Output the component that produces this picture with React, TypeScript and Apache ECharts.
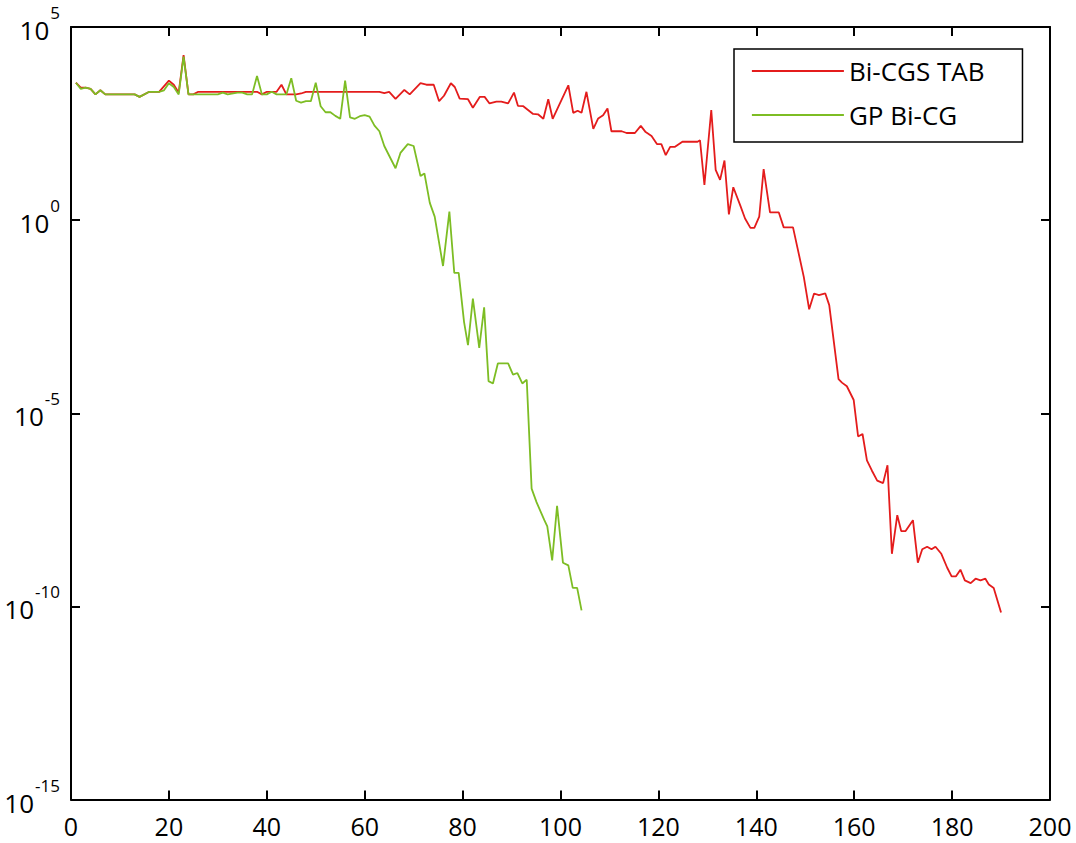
import React, { useEffect, useRef } from "react";
import * as echarts from "echarts";

const seriesNames = ["Bi-CGS TAB", "GP Bi-CG"];
const seriesColors = ["#e41c1c", "#7dbd24"];
const xTicks = { min: 0, max: 200, step: 20 };
const yRange = { min: 1e-15, max: 1e5 };

// [iteration, residual norm]
const biCgstabResidual: [number, number][] = [
  [1, 3.6e3], [2, 2.7e3], [3, 2.7e3], [4, 2.5e3], [5, 1.8e3], [6, 2.3e3], [7, 1.8e3],
  [13, 1.8e3], [14, 1.55e3], [16, 2.1e3], [18, 2.1e3], [20, 4.1e3], [21, 3.2e3],
  [22, 2.0e3], [23, 1.86e4], [24, 1.8e3], [25, 1.8e3], [26, 2.1e3], [38, 2.1e3],
  [39, 1.8e3], [40, 2.1e3], [42, 2.1e3], [43, 3.2e3], [44, 1.8e3], [46, 1.8e3],
  [47, 1.9e3], [48, 2.1e3], [63, 2.1e3], [64, 1.95e3], [65, 2.1e3], [66.3, 1.38e3],
  [68.1, 2.34e3], [69.2, 1.8e3], [71.4, 3.5e3], [72.6, 3.2e3], [74.1, 3.2e3],
  [75.2, 1.2e3], [76.2, 1.66e3], [77.6, 3.5e3], [78.4, 2.8e3], [79.4, 1.4e3],
  [81.1, 1.35e3], [82.1, 8.1e2], [83.5, 1.55e3], [84.5, 1.55e3], [85.5, 1.05e3],
  [86.9, 1.17e3], [87.9, 1.17e3], [89.3, 1.05e3], [90.5, 2.0e3], [91.3, 9.1e2],
  [92.4, 8.9e2], [94.4, 5.6e2], [95.4, 5.5e2], [96.5, 4.2e2], [97.5, 1.35e3],
  [98.4, 4.2e2], [101.6, 3.1e3], [102.6, 6.0e2], [103.5, 6.8e2], [104.3, 6.0e2],
  [105.3, 2.1e3], [106.7, 2.3e2], [107.7, 4.3e2], [108.7, 5.2e2], [109.6, 7.8e2],
  [110.4, 2.0e2], [112.5, 2.0e2], [113.5, 1.8e2], [115.2, 1.8e2], [116.4, 2.75e2],
  [117.4, 1.9e2], [118.6, 1.5e2], [119.7, 93], [120.6, 93], [121.5, 48], [122.4, 79],
  [123.4, 79], [124.9, 107], [128.0, 107], [128.5, 117], [129.4, 8.1], [130.8, 7.1e2],
  [131.7, 20], [132.6, 11], [133.5, 35], [134.4, 1.41], [135.3, 7.1], [136.7, 2.45],
  [137.7, 1.1], [138.8, 0.63], [139.6, 0.63], [140.6, 1.23], [141.5, 21], [142.8, 1.58],
  [144.6, 1.58], [145.6, 0.65], [147.5, 0.65], [149.7, 0.034], [150.8, 4.9e-3],
  [151.8, 1.26e-2], [152.8, 1.15e-2], [154.1, 1.26e-2], [154.9, 6.3e-3],
  [156.8, 7.6e-5], [157.5, 6.2e-5], [158.5, 5.0e-5], [159.9, 2.2e-5], [160.8, 2.5e-6],
  [161.7, 2.9e-6], [162.6, 6.0e-7], [163.6, 3.3e-7], [164.7, 1.8e-7], [165.9, 1.55e-7],
  [166.8, 4.5e-7], [167.7, 2.3e-9], [168.8, 2.3e-8], [169.6, 8.9e-9], [170.5, 8.9e-9],
  [172.0, 1.7e-8], [173.0, 1.35e-9], [173.9, 3.0e-9], [174.9, 3.5e-9], [175.8, 3.0e-9],
  [176.6, 3.5e-9], [177.8, 2.3e-9], [179.0, 1.0e-9], [179.9, 6.0e-10], [180.8, 6.0e-10],
  [181.7, 8.9e-10], [182.6, 4.7e-10], [183.8, 4.0e-10], [184.8, 5.2e-10],
  [185.8, 4.7e-10], [186.8, 5.2e-10], [187.5, 3.7e-10], [188.5, 3.0e-10],
  [190.0, 6.9e-11],
];

const gpBicgResidual: [number, number][] = [
  [1, 3.6e3], [2, 2.5e3], [3, 2.7e3], [4, 2.5e3], [5, 1.8e3], [6, 2.3e3], [7, 1.8e3],
  [13, 1.8e3], [14, 1.55e3], [16, 2.1e3], [18, 2.1e3], [19, 2.3e3], [20, 3.5e3],
  [21, 2.8e3], [22, 1.8e3], [23, 1.7e4], [24, 1.8e3], [30, 1.8e3], [31, 2.0e3],
  [32, 1.8e3], [34, 2.0e3], [35, 2.0e3], [36, 1.8e3], [37, 1.8e3], [38, 5.4e3],
  [39, 1.8e3], [40, 1.8e3], [41, 2.1e3], [42, 1.8e3], [44, 1.8e3], [45, 4.7e3],
  [46, 1.23e3], [47, 1.1e3], [48, 1.2e3], [49, 1.2e3], [50, 3.6e3], [51, 8.9e2],
  [52, 6.2e2], [53, 6.2e2], [54, 5.0e2], [55, 4.2e2], [56, 4.1e3], [57, 4.6e2],
  [58, 4.2e2], [59, 4.9e2], [60, 5.25e2], [61, 4.8e2], [62, 2.8e2], [63, 2.0e2],
  [64, 83], [66.3, 22], [67.3, 55], [68.8, 93], [70, 83], [71.4, 13.8], [72.2, 16.2],
  [73.3, 2.8], [74.3, 1.23], [76, 0.065], [77.3, 1.66], [78.3, 0.043], [79.2, 0.043],
  [80.3, 2.3e-3], [81.1, 5.8e-4], [82.1, 9.3e-3], [83.4, 4.9e-4], [84.4, 5.5e-3],
  [85.3, 6.8e-5], [86.2, 5.9e-5], [87.2, 1.95e-4], [89.3, 1.95e-4], [90.3, 1.0e-4],
  [91.2, 1.1e-4], [92.2, 5.9e-5], [93.1, 7.4e-5], [94.1, 1.12e-7], [95.1, 5.0e-8],
  [96.7, 1.7e-8], [97.3, 1.17e-8], [98.3, 1.55e-9], [99.3, 4.0e-8], [100.5, 1.35e-9],
  [101.6, 1.15e-9], [102.5, 3.0e-10], [103.4, 3.0e-10], [104.3, 7.9e-11],
];

const FONT = "'Open Sans', 'Noto Sans', sans-serif";

export default function App() {
  const ref = useRef<HTMLDivElement>(null);

  useEffect(() => {
    if (!ref.current) return;
    const chart = echarts.init(ref.current, null, { renderer: "svg" });

    const axisLine = { show: true, onZero: false, lineStyle: { color: "#000", width: 2 } };
    const axisTick = { show: true, inside: true, length: 9, lineStyle: { color: "#000", width: 2 } };

    const xBase = {
      type: "value" as const,
      min: xTicks.min,
      max: xTicks.max,
      interval: xTicks.step,
      axisLine,
      axisTick,
      splitLine: { show: false },
    };
    const yBase = {
      type: "log" as const,
      logBase: 1e5,
      min: yRange.min,
      max: yRange.max,
      axisLine,
      axisTick,
      splitLine: { show: false },
      minorTick: { show: false },
    };

    chart.setOption({
      animation: false,
      backgroundColor: "#fff",
      textStyle: { fontFamily: FONT },
      grid: { left: 71, right: 26, top: 27, bottom: 43.5, containLabel: false },
      legend: {
        orient: "vertical",
        left: 734,
        top: 49,
        padding: [9, 38, 14, 17],
        itemGap: 18,
        itemWidth: 92,
        itemHeight: 30,
        borderColor: "#000",
        borderWidth: 1.5,
        borderRadius: 0,
        backgroundColor: "#fff",
        data: seriesNames,
        itemStyle: { opacity: 0 },
        lineStyle: { width: 1.8 },
        textStyle: {
          fontFamily: FONT,
          fontSize: 26,
          color: "#000",
          padding: [10, 0, 0, 0],
        },
      },
      xAxis: [
        {
          ...xBase,
          position: "bottom",
          axisLabel: { show: true, color: "#000", fontSize: 25, fontFamily: FONT, margin: 14 },
        },
        { ...xBase, position: "top", axisLabel: { show: false } },
      ],
      yAxis: [
        {
          ...yBase,
          position: "left",
          axisLabel: {
            show: true,
            margin: 11,
            formatter: (v: number) => {
              const e = Math.round(Math.log10(v));
              return "{b|10}{s|" + e + "}";
            },
            rich: {
              b: { fontSize: 26, fontFamily: FONT, color: "#000", padding: [13, 1, 7, 0], verticalAlign: "bottom" },
              s: { fontSize: 17, fontFamily: FONT, color: "#000", verticalAlign: "top" },
            },
          },
        },
        { ...yBase, position: "right", axisLabel: { show: false } },
      ],
      series: [
        {
          name: seriesNames[0],
          type: "line",
          xAxisIndex: 0,
          yAxisIndex: 0,
          data: biCgstabResidual,
          symbol: "none",
          showSymbol: false,
          lineStyle: { color: seriesColors[0], width: 1.8 },
          itemStyle: { color: seriesColors[0] },
        },
        {
          name: seriesNames[1],
          type: "line",
          xAxisIndex: 0,
          yAxisIndex: 0,
          data: gpBicgResidual,
          symbol: "none",
          showSymbol: false,
          lineStyle: { color: seriesColors[1], width: 1.8 },
          itemStyle: { color: seriesColors[1] },
        },
      ],
    });

    return () => chart.dispose();
  }, []);

  return (
    <div
      ref={ref}
      style={{ position: "fixed", left: 0, top: 0, width: 1076, height: 843, background: "#fff" }}
    />
  );
}
